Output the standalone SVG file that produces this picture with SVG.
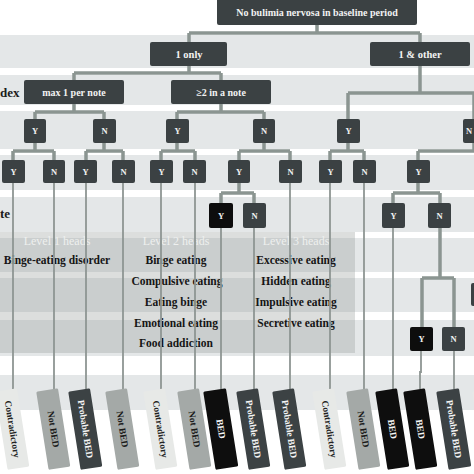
<svg xmlns="http://www.w3.org/2000/svg" width="474" height="474" viewBox="0 0 474 474">
<style>
.band{fill:#e4e7e8}
.nd{fill:#3b4143}
.blk{fill:#0d0d0d}
.t{font-family:"Liberation Serif","DejaVu Serif",serif;font-weight:bold;fill:#f2f2f2;text-anchor:middle;dominant-baseline:central}
.tn{font-size:10px}
.yn{font-size:8.5px}
.conn{fill:none;stroke:#8b9591;stroke-width:3.5}
.ll{fill:none;stroke:#8e9693;stroke-width:1.8}
.side{font-family:"Liberation Serif","DejaVu Serif",serif;font-weight:bold;font-size:13px;fill:#1c1c1c;dominant-baseline:central}
.lh{font-family:"Liberation Serif","DejaVu Serif",serif;font-size:12px;fill:#eef0ef;text-anchor:middle;dominant-baseline:central}
.it{font-family:"Liberation Serif","DejaVu Serif",serif;font-weight:bold;font-size:11.5px;fill:#151515;text-anchor:middle;dominant-baseline:central}
.tag{font-family:"Liberation Serif","DejaVu Serif",serif;font-weight:bold;font-size:9.5px;text-anchor:middle;dominant-baseline:central}
.lt rect{fill:#e7e9e7}.lt text{fill:#222}
.gr rect{fill:#a4a9a7}.gr text{fill:#1a1a1a}
.dk rect{fill:#3c4244}.dk text{fill:#f4f4f4}
.bk rect{fill:#0e0e0e}.bk text{fill:#f4f4f4}
</style>
<rect width="474" height="474" fill="#ffffff"/>
<g id="bands">
<rect class="band" x="0" y="35" width="474" height="33"/>
<rect class="band" x="0" y="75" width="474" height="30"/>
<rect class="band" x="0" y="111" width="474" height="38"/>
<rect class="band" x="0" y="155" width="474" height="35"/>
<rect class="band" x="0" y="197" width="474" height="35"/>
<rect class="band" x="0" y="238" width="474" height="34"/>
<rect class="band" x="0" y="278" width="474" height="34"/>
<rect class="band" x="0" y="320" width="474" height="36"/>
<rect class="band" x="0" y="375" width="474" height="35"/>
</g>
<g id="level-panel">
<rect x="0" y="232" width="355" height="121" fill="#9aa19f" opacity="0.35"/>
<text class="lh" x="57" y="241">Level 1 heads</text>
<text class="lh" x="176" y="241">Level 2 heads</text>
<text class="lh" x="296" y="241">Level 3 heads</text>
<text class="it" x="57" y="260">Binge-eating disorder</text>
<text class="it" x="176" y="260">Binge eating</text>
<text class="it" x="177" y="281">Compulsive eating</text>
<text class="it" x="176" y="302">Eating binge</text>
<text class="it" x="176" y="323">Emotional eating</text>
<text class="it" x="176" y="343">Food addiction</text>
<text class="it" x="296" y="260">Excessive eating</text>
<text class="it" x="296" y="281">Hidden eating</text>
<text class="it" x="296" y="302">Impulsive eating</text>
<text class="it" x="296" y="323">Secretive eating</text>
</g>
<text class="side" x="0" y="92">dex</text>
<text class="side" x="0" y="213">te</text>
<g id="connectors">
<path class="conn" d="M317,25V33M189,33H420M189,33V42M420,33V42M189,66V73M74,73H221M74,73V80M221,73V80M420,66V93M348,93H474M348,93V119M474,93V119M74,104V112M35,112H104M35,112V119M104,112V119M221,104V112M177,112H264M177,112V119M264,112V119M35,143V151M13,151H54M13,151V160M54,151V160M104,143V151M86,151H123M86,151V160M123,151V160M177,143V151M161,151H195M161,151V160M195,151V160M264,143V151M239,151H290M239,151V160M290,151V160M348,143V151M330,151H364M330,151V160M364,151V160M474,143V151M418,151H480M418,151V160M239,183V193M221,193H254M221,193V203M254,193V203M418,183V193M393,193H440M393,193V203M440,193V203M440,228V278M422,278H454M422,278V327M454,278V327"/>
<path class="ll" d="M13,183V389M54,183V389M86,183V389M123,183V389M161,183V389M195,183V389M221,228V389M254,228V389M290,183V389M330,183V389M364,183V389M393,228V389M421,351V372H420V389M454,351V389"/>
</g>
<g id="n-root"><rect class="nd" x="217" y="-3" width="200" height="28" rx="2"/><text class="t" x="317" y="12" font-size="10">No bulimia nervosa in baseline period</text></g>
<g id="n-1only"><rect class="nd" x="150" y="42" width="77" height="24" rx="2"/><text class="t" x="189" y="54" font-size="10.5">1 only</text></g>
<g id="n-1other"><rect class="nd" x="370" y="42" width="100" height="24" rx="2"/><text class="t" x="420" y="54" font-size="10.5">1 &amp; other</text></g>
<g id="n-max1"><rect class="nd" x="24" y="80" width="100" height="24" rx="2"/><text class="t tn" x="74" y="92">max 1 per note</text></g>
<g id="n-ge2"><rect class="nd" x="171" y="80" width="100" height="24" rx="2"/><text class="t tn" x="221" y="92">≥2 in a note</text></g>
<g id="r1-y1"><rect class="nd" x="24" y="119" width="22" height="24" rx="2"/><text class="t yn" x="35" y="131">Y</text></g>
<g id="r1-n1"><rect class="nd" x="93" y="119" width="23" height="24" rx="2"/><text class="t yn" x="104.5" y="131">N</text></g>
<g id="r1-y2"><rect class="nd" x="166" y="119" width="23" height="24" rx="2"/><text class="t yn" x="177.5" y="131">Y</text></g>
<g id="r1-n2"><rect class="nd" x="253" y="119" width="22" height="24" rx="2"/><text class="t yn" x="264" y="131">N</text></g>
<g id="r1-y3"><rect class="nd" x="337" y="119" width="23" height="24" rx="2"/><text class="t yn" x="348.5" y="131">Y</text></g>
<g id="r1-n3"><rect class="nd" x="463" y="119" width="23" height="24" rx="2"/><text class="t yn" x="469" y="131">N</text></g>
<g id="r2-y1"><rect class="nd" x="2" y="160" width="23" height="23" rx="2"/><text class="t yn" x="13.5" y="171.5">Y</text></g>
<g id="r2-n1"><rect class="nd" x="43" y="160" width="22" height="23" rx="2"/><text class="t yn" x="54" y="171.5">N</text></g>
<g id="r2-y2"><rect class="nd" x="74" y="160" width="23" height="23" rx="2"/><text class="t yn" x="85.5" y="171.5">Y</text></g>
<g id="r2-n2"><rect class="nd" x="112" y="160" width="23" height="23" rx="2"/><text class="t yn" x="123.5" y="171.5">N</text></g>
<g id="r2-y3"><rect class="nd" x="150" y="160" width="23" height="23" rx="2"/><text class="t yn" x="161.5" y="171.5">Y</text></g>
<g id="r2-n3"><rect class="nd" x="183" y="160" width="23" height="23" rx="2"/><text class="t yn" x="194.5" y="171.5">N</text></g>
<g id="r2-y4"><rect class="nd" x="228" y="160" width="22" height="23" rx="2"/><text class="t yn" x="239" y="171.5">Y</text></g>
<g id="r2-n4"><rect class="nd" x="279" y="160" width="23" height="23" rx="2"/><text class="t yn" x="290.5" y="171.5">N</text></g>
<g id="r2-y5"><rect class="nd" x="319" y="160" width="23" height="23" rx="2"/><text class="t yn" x="330.5" y="171.5">Y</text></g>
<g id="r2-n5"><rect class="nd" x="353" y="160" width="23" height="23" rx="2"/><text class="t yn" x="364.5" y="171.5">N</text></g>
<g id="r2-y6"><rect class="nd" x="407" y="160" width="23" height="23" rx="2"/><text class="t yn" x="418.5" y="171.5">Y</text></g>
<g id="r3-y1"><rect class="blk" x="209" y="203" width="24" height="25" rx="2"/><text class="t yn" x="221" y="215.5">Y</text></g>
<g id="r3-n1"><rect class="nd" x="243" y="203" width="23" height="25" rx="2"/><text class="t yn" x="254.5" y="215.5">N</text></g>
<g id="r3-y2"><rect class="nd" x="382" y="203" width="23" height="25" rx="2"/><text class="t yn" x="393.5" y="215.5">Y</text></g>
<g id="r3-n2"><rect class="nd" x="428" y="203" width="23" height="25" rx="2"/><text class="t yn" x="439.5" y="215.5">N</text></g>
<g id="r3-edge"><rect class="nd" x="471" y="283" width="23" height="23" rx="2"/></g>
<g id="r4-y1"><rect class="blk" x="410" y="327" width="23" height="24" rx="2"/><text class="t yn" x="421.5" y="339">Y</text></g>
<g id="r4-n1"><rect class="nd" x="442" y="327" width="23" height="24" rx="2"/><text class="t yn" x="453.5" y="339">N</text></g>
<g id="leaf1" class="lt" transform="translate(13,389) rotate(-9)"><rect x="-18" y="0" width="22" height="79" rx="1.5"/><text class="tag" transform="translate(-7,39.5) rotate(90)">Contradictory</text></g>
<g id="leaf2" class="gr" transform="translate(54,389) rotate(-9)"><rect x="-18" y="0" width="22" height="79" rx="1.5"/><text class="tag" transform="translate(-7,39.5) rotate(90)">Not BED</text></g>
<g id="leaf3" class="dk" transform="translate(86,389) rotate(-9)"><rect x="-18" y="0" width="22" height="79" rx="1.5"/><text class="tag" transform="translate(-7,39.5) rotate(90)">Probable BED</text></g>
<g id="leaf4" class="gr" transform="translate(123,389) rotate(-9)"><rect x="-18" y="0" width="22" height="79" rx="1.5"/><text class="tag" transform="translate(-7,39.5) rotate(90)">Not BED</text></g>
<g id="leaf5" class="lt" transform="translate(161,389) rotate(-9)"><rect x="-18" y="0" width="22" height="79" rx="1.5"/><text class="tag" transform="translate(-7,39.5) rotate(90)">Contradictory</text></g>
<g id="leaf6" class="gr" transform="translate(195,389) rotate(-9)"><rect x="-18" y="0" width="22" height="79" rx="1.5"/><text class="tag" transform="translate(-7,39.5) rotate(90)">Not BED</text></g>
<g id="leaf7" class="bk" transform="translate(221,389) rotate(-9)"><rect x="-18" y="0" width="23" height="79" rx="1.5"/><text class="tag" transform="translate(-6.5,39.5) rotate(90)">BED</text></g>
<g id="leaf8" class="dk" transform="translate(254,389) rotate(-9)"><rect x="-18" y="0" width="22" height="79" rx="1.5"/><text class="tag" transform="translate(-7,39.5) rotate(90)">Probable BED</text></g>
<g id="leaf9" class="dk" transform="translate(290,389) rotate(-9)"><rect x="-18" y="0" width="22" height="79" rx="1.5"/><text class="tag" transform="translate(-7,39.5) rotate(90)">Probable BED</text></g>
<g id="leaf10" class="lt" transform="translate(330,389) rotate(-9)"><rect x="-18" y="0" width="22" height="79" rx="1.5"/><text class="tag" transform="translate(-7,39.5) rotate(90)">Contradictory</text></g>
<g id="leaf11" class="gr" transform="translate(364,389) rotate(-9)"><rect x="-18" y="0" width="22" height="79" rx="1.5"/><text class="tag" transform="translate(-7,39.5) rotate(90)">Not BED</text></g>
<g id="leaf12" class="bk" transform="translate(393,389) rotate(-9)"><rect x="-18" y="0" width="22" height="79" rx="1.5"/><text class="tag" transform="translate(-7,39.5) rotate(90)">BED</text></g>
<g id="leaf13" class="bk" transform="translate(421,389) rotate(-9)"><rect x="-18" y="0" width="22" height="79" rx="1.5"/><text class="tag" transform="translate(-7,39.5) rotate(90)">BED</text></g>
<g id="leaf14" class="dk" transform="translate(454,389) rotate(-9)"><rect x="-18" y="0" width="23" height="79" rx="1.5"/><text class="tag" transform="translate(-6.5,39.5) rotate(90)">Probable BED</text></g>
<g id="leaf15" class="lt" transform="translate(490,389) rotate(-9)"><rect x="-18" y="0" width="22" height="79" rx="1.5" fill="#dadddc"/></g>
</svg>
